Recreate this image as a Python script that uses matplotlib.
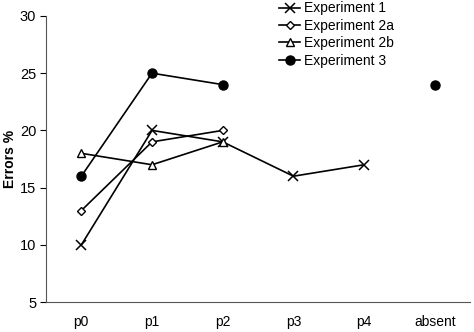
import numpy as np
import matplotlib.pyplot as plt

# Data
categories = ["p0", "p1", "p2", "p3", "p4", "absent"]
exp1 = [10, 20, 19, 16, 17, np.nan]
exp2a = [13, 19, 20, np.nan, np.nan, np.nan]
exp2b = [18, 17, 19, np.nan, np.nan, np.nan]
exp3 = [16, 25, 24, np.nan, np.nan, 24]

plt.rcParams['font.family'] = ['Liberation Sans', 'DejaVu Sans']

fig = plt.figure(figsize=(4.74, 3.32), dpi=100)
ax = fig.add_axes([0.097, 0.090, 0.895, 0.862])

x = np.arange(len(categories))
lw = 1.2
ax.plot(x, exp1, color='k', lw=lw, marker='x', ms=6.5, mew=1.1, label='Experiment 1')
ax.plot(x, exp2a, color='k', lw=lw, marker='D', ms=4.2, mfc='white', mew=1.0, label='Experiment 2a')
ax.plot(x, exp2b, color='k', lw=lw, marker='^', ms=5.5, mfc='white', mew=1.0, label='Experiment 2b')
ax.plot(x, exp3, color='k', lw=lw, marker='o', ms=6.5, label='Experiment 3')

ax.set_xlim(-0.5, 5.5)
ax.set_ylim(5, 30)
ax.set_yticks([5, 10, 15, 20, 25, 30])
ax.set_xticks(x)
ax.set_xticklabels(categories)
ax.tick_params(axis='x', length=0, pad=9, labelsize=10)
ax.tick_params(axis='y', length=4, width=0.8, direction='out', labelsize=10.5, pad=3)
ax.spines['top'].set_visible(False)
ax.spines['right'].set_visible(False)
ax.spines['left'].set_color('#555555')
ax.spines['bottom'].set_color('#555555')
ax.set_ylabel('Errors %', fontweight='bold', fontsize=10, va='center')
ax.yaxis.set_label_coords(-0.084, 0.5)

leg = ax.legend(loc='upper left', bbox_to_anchor=(278 / 474, 1.0), bbox_transform=fig.transFigure,
                frameon=False, fontsize=10, handlelength=1.5, handletextpad=0.3,
                labelspacing=0.25, borderaxespad=0, borderpad=0.1)

fig.savefig('out.png', dpi=100)
